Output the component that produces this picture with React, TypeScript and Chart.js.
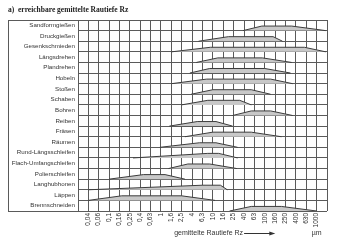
import React, { useEffect, useRef } from 'react';
import { Chart, registerables } from 'chart.js';

Chart.register(...registerables);

const processes = [
  'Sandformgießen', 'Druckgießen', 'Gesenkschmieden', 'Längsdrehen', 'Plandrehen',
  'Hobeln', 'Stoßen', 'Schaben', 'Bohren', 'Reiben', 'Fräsen', 'Räumen',
  'Rund-Längsschleifen', 'Flach-Umfangschleifen', 'Polierschleifen',
  'Langhubhonen', 'Läppen', 'Brennschneiden',
];

// Rz in µm: lowest reachable, usual range start, usual range end, highest
const rzMin = [38, 5.3, 1.6, 4.8, 3.6, 1.6, 3.8, 2.5, 24, 1.45, 2.9, 0.95, 0.29, 1.4, 0.1, 0.04, 0.04, 21];
const rzUsualFrom = [88, 20, 9, 12.5, 8.7, 7.6, 10, 8, 55, 5, 10, 5.5, 8, 3.3, 0.46, 6.3, 0.175, 55];
const rzUsualTo = [330, 145, 580, 90, 100, 130, 55, 33, 130, 11.5, 55, 11.5, 13, 8.7, 1.2, 14, 2.5, 210];
const rzMax = [1500, 220, 1500, 330, 315, 345, 130, 55, 345, 24, 210, 30, 30, 29, 2.9, 19, 11, 1000];

const tickValues = [0.04, 0.063, 0.1, 0.16, 0.25, 0.4, 0.63, 1, 1.6, 2.5, 4, 6.3, 10, 16, 25, 40, 63, 100, 160, 250, 400, 630, 1000];
const tickLabels = ['0,04', '0,06', '0,1', '0,16', '0,25', '0,4', '0,63', '1', '1,6', '2,5', '4', '6,3', '10', '16', '25', '40', '63', '100', '160', '250', '400', '630', '1000'];

const axisMin = 0.0252;
const axisMax = 1585;

const titleText = 'a)  erreichbare gemittelte Rautiefe Rz';
const axisCaption = 'gemittelte Rautiefe Rz';
const unitText = 'µm';

const SANS = "'Liberation Sans', sans-serif";
const GRID = '#5a5a5a';

const decor = {
  id: 'decor',
  afterDraw(chart: any) {
    const { ctx, chartArea: a, scales } = chart;
    const x = scales.x;
    ctx.save();
    ctx.strokeStyle = GRID;
    ctx.lineWidth = 1;
    ctx.strokeRect(8.5, Math.round(a.top) + 0.5, Math.round(a.left) - 8, Math.round(a.bottom - a.top));
    const cy = a.bottom + 22;
    ctx.fillStyle = '#333';
    ctx.font = `7px ${SANS}`;
    ctx.textBaseline = 'middle';
    ctx.textAlign = 'left';
    ctx.fillText(axisCaption, x.getPixelForValue(1.8), cy);
    const ax0 = x.getPixelForValue(40);
    const ax1 = x.getPixelForValue(160);
    ctx.strokeStyle = '#333';
    ctx.beginPath();
    ctx.moveTo(ax0, cy + 0.5);
    ctx.lineTo(ax1 - 5, cy + 0.5);
    ctx.stroke();
    ctx.beginPath();
    ctx.moveTo(ax1, cy + 0.5);
    ctx.lineTo(ax1 - 6, cy - 1.5);
    ctx.lineTo(ax1 - 6, cy + 2.5);
    ctx.closePath();
    ctx.fill();
    ctx.textAlign = 'center';
    ctx.fillText(unitText, x.getPixelForValue(1000), cy);
    ctx.restore();
  },
};

export default function App() {
  const ref = useRef<HTMLCanvasElement>(null);
  useEffect(() => {
    document.body.style.margin = '0';
    document.body.style.overflow = 'hidden';
    const h = 0.43;
    const datasets = processes.map((p, i) => ({
      label: p,
      data: [
        { x: rzMin[i], y: i + 1 },
        { x: rzUsualFrom[i], y: i + 1 - h },
        { x: rzUsualTo[i], y: i + 1 - h },
        { x: rzMax[i], y: i + 1 },
      ],
      xAxisID: 'x',
      yAxisID: 'y',
      borderColor: '#3c3c3c',
      borderWidth: 1,
      backgroundColor: '#c8c8c8',
      fill: { value: i + 1 },
      pointRadius: 0,
      tension: 0,
    }));
    const chart = new Chart(ref.current!, {
      type: 'line',
      data: { datasets },
      plugins: [decor],
      options: {
        animation: false,
        responsive: false,
        layout: { padding: { left: 8, right: 26, top: 0, bottom: 0 } },
        plugins: {
          legend: { display: false },
          tooltip: { enabled: false },
          title: {
            display: true,
            text: titleText,
            align: 'start',
            color: '#222',
            font: { family: "'Liberation Serif', serif", size: 7.5, weight: 'bold' },
            padding: { top: 6, bottom: 5 },
          },
        },
        scales: {
          x: {
            type: 'logarithmic',
            min: axisMin,
            max: axisMax,
            afterBuildTicks: (s: any) => {
              s.ticks = [axisMin, ...tickValues, axisMax].map((v) => ({ value: v }));
            },
            afterFit: (s: any) => { s.height = 32; },
            grid: { color: GRID, lineWidth: 1, drawTicks: false },
            border: { display: false },
            ticks: {
              autoSkip: false,
              minRotation: 90,
              maxRotation: 90,
              padding: 2,
              color: '#333',
              font: { family: SANS, size: 6.5 },
              callback: (_v: any, i: number) => (i === 0 || i > tickLabels.length ? '' : tickLabels[i - 1]),
            },
          },
          y: {
            type: 'linear',
            position: 'right',
            min: 0,
            max: processes.length,
            reverse: true,
            afterFit: (s: any) => { s.width = 0; },
            grid: { color: GRID, lineWidth: 1, drawTicks: false },
            border: { display: false },
            ticks: { stepSize: 1, display: false },
          },
          yLab: {
            type: 'category',
            labels: processes,
            position: 'left',
            offset: true,
            afterFit: (s: any) => { s.width = 70; },
            grid: { display: false, drawTicks: false },
            border: { display: false },
            ticks: {
              autoSkip: false,
              padding: 3,
              color: '#333',
              font: { family: SANS, size: 6.2 },
            },
          },
        },
      } as any,
    });
    return () => chart.destroy();
  }, []);
  return (
    <div style={{ width: 353, height: 243 }}>
      <canvas ref={ref} width={353} height={243} style={{ width: 353, height: 243, display: 'block' }} />
    </div>
  );
}
